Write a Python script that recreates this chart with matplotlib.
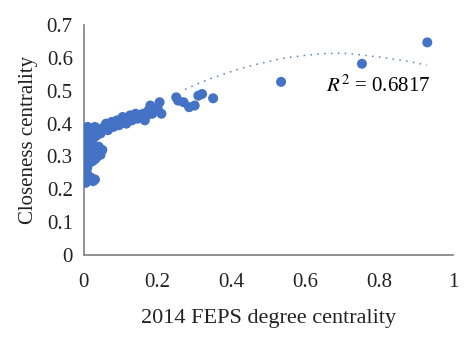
import numpy as np
import matplotlib.pyplot as plt

plt.rcParams['font.family'] = ['Liberation Serif', 'DejaVu Serif']
plt.rcParams['mathtext.fontset'] = 'stix'

# degree centrality (x) vs closeness centrality (y), one entry per node
degree = [
    0.005, 0.008, 0.012, 0.020, 0.030, 0.025, 0.010,
    0.003, 0.006, 0.010, 0.015, 0.020, 0.005, 0.010, 0.030, 0.035, 0.040,
    0.020, 0.008, 0.015, 0.030, 0.045, 0.025, 0.010, 0.020, 0.005, 0.015, 0.030,
    0.050, 0.040,
    0.004, 0.007, 0.009, 0.012, 0.014, 0.018, 0.022, 0.026, 0.028, 0.033,
    0.004, 0.007, 0.009, 0.012, 0.014, 0.018, 0.022, 0.026, 0.028, 0.033,
    0.005, 0.010, 0.020, 0.030, 0.040, 0.015, 0.025, 0.035, 0.045, 0.050,
    0.055, 0.060, 0.065, 0.070, 0.075, 0.080, 0.085, 0.090, 0.095, 0.100,
    0.105, 0.110, 0.115, 0.120, 0.125, 0.130, 0.135, 0.140, 0.145, 0.150,
    0.155, 0.160, 0.165, 0.170, 0.175, 0.180, 0.185, 0.190, 0.200, 0.205,
    0.210,
    0.250, 0.255, 0.270, 0.285, 0.300, 0.310, 0.320, 0.350,
    0.534, 0.753, 0.930,
]
closeness = [
    0.220, 0.235, 0.240, 0.235, 0.230, 0.225, 0.245,
    0.280, 0.270, 0.285, 0.290, 0.300, 0.300, 0.310, 0.310, 0.320, 0.330,
    0.320, 0.330, 0.340, 0.300, 0.305, 0.335, 0.350, 0.350, 0.360, 0.370, 0.360,
    0.320, 0.310,
    0.275, 0.290, 0.265, 0.300, 0.280, 0.295, 0.285, 0.305, 0.290, 0.300,
    0.315, 0.325, 0.305, 0.330, 0.310, 0.320, 0.340, 0.315, 0.325, 0.295,
    0.380, 0.390, 0.385, 0.390, 0.380, 0.375, 0.370, 0.365, 0.370, 0.385,
    0.390, 0.400, 0.380, 0.395, 0.405, 0.390, 0.400, 0.410, 0.395, 0.405,
    0.420, 0.410, 0.400, 0.415, 0.425, 0.410, 0.420, 0.430, 0.415, 0.425,
    0.420, 0.430, 0.410, 0.425, 0.440, 0.455, 0.430, 0.440, 0.445, 0.465,
    0.430,
    0.480, 0.470, 0.465, 0.450, 0.455, 0.485, 0.490, 0.477,
    0.527, 0.582, 0.647,
]

# polynomial trendline, visible part above the point cloud
trend_x = [0.274, 0.310, 0.346, 0.382, 0.423, 0.459, 0.500, 0.536,
           0.594, 0.653, 0.690, 0.716, 0.797, 0.870, 0.929]
trend_y = [0.504, 0.522, 0.538, 0.552, 0.567, 0.578, 0.589, 0.598,
           0.607, 0.613, 0.614, 0.613, 0.603, 0.591, 0.578]

r2_label = "$R^2$ = 0.6817"
blue = "#4472C4"

fig = plt.figure(figsize=(4.74, 3.42), dpi=100)
ax = fig.add_axes([0.177, 0.254, 0.779, 0.673])

ax.scatter(degree, closeness, s=52, color=blue, edgecolors='none', zorder=3)
ax.plot(trend_x, trend_y, color='#5a7fc0', linestyle=(0, (1, 3.5)),
        linewidth=1.1, zorder=2)

ax.text(0.655, 0.515, r2_label, fontsize=15, va='center')

ax.set_xlim(0, 1)
ax.set_ylim(0, 0.7)
ax.set_xticks(np.arange(0, 1.01, 0.2))
ax.set_xticklabels(['0', '0.2', '0.4', '0.6', '0.8', '1'])
ax.set_yticks(np.arange(0, 0.71, 0.1))
ax.set_yticklabels(['0', '0.1', '0.2', '0.3', '0.4', '0.5', '0.6', '0.7'])
ax.tick_params(length=0, labelsize=15, colors='#222222')
ax.tick_params(axis='x', pad=13)
ax.tick_params(axis='y', pad=8)

for side in ['top', 'right']:
    ax.spines[side].set_visible(False)
for side in ['left', 'bottom']:
    ax.spines[side].set_color('#7f7f7f')
    ax.spines[side].set_linewidth(1.2)

ax.set_xlabel("2014 FEPS degree centrality", fontsize=16, color='#222222', labelpad=12)
ax.set_ylabel("Closeness centrality", fontsize=15, color='#222222', labelpad=6)

fig.savefig("out.png", dpi=100)
